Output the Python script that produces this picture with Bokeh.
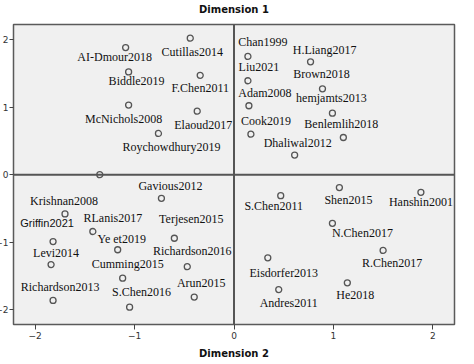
from bokeh.plotting import figure
from bokeh.models import Range1d, Span, FixedTicker, ColumnDataSource, LinearAxis
from bokeh.core.properties import value
from bokeh.embed import file_html
from bokeh.resources import INLINE

# ---- data ----
names = ["AI-Dmour2018", "Cutillas2014", "Biddle2019", "F.Chen2011", "McNichols2008",
         "Elaoud2017", "Roychowdhury2019",
         "Chan1999", "H.Liang2017", "Liu2021", "Brown2018", "Adam2008", "hemjamts2013",
         "Cook2019", "Benlemlih2018", "Dhaliwal2012",
         "Gavious2012", "Krishnan2008", "Griffin2021", "RLanis2017", "Ye et2019",
         "Terjesen2015", "Levi2014", "Richardson2016", "Cumming2015", "Richardson2013",
         "S.Chen2016", "Arun2015",
         "S.Chen2011", "Shen2015", "Hanshin2001", "N.Chen2017", "R.Chen2017",
         "Eisdorfer2013", "He2018", "Andres2011", ""]
dim_x = [-1.09, -0.44, -1.06, -0.34, -1.06, -0.37, -0.76,
         0.14, 0.77, 0.14, 0.89, 0.15, 0.99, 0.17, 1.10, 0.61,
         -0.73, -1.70, -1.82, -1.42, -1.17, -0.60, -1.84, -0.47, -1.12, -1.82, -1.05, -0.40,
         0.47, 1.06, 1.88, 0.99, 1.50, 0.34, 1.14, 0.45, -1.35]
dim_y = [1.88, 2.02, 1.52, 1.47, 1.03, 0.94, 0.61,
         1.75, 1.67, 1.39, 1.27, 1.02, 0.91, 0.60, 0.55, 0.29,
         -0.35, -0.58, -0.99, -0.84, -1.11, -0.94, -1.33, -1.36, -1.53, -1.86, -1.96, -1.81,
         -0.31, -0.19, -0.26, -0.72, -1.12, -1.23, -1.60, -1.70, 0.0]
ticks = [-2, -1, 0, 1, 2]
top_title = "Dimension 1"
bottom_title = "Dimension 2"

# label placement offsets (pixels) relative to each point
lab_dx = [-11, 2, 8, 0, -5, 6, 13,
          15, 14, 11, -1, 16, -1, 15, -2, 3,
          9, -1, -6, 20, 4, 17, 5, 5, 5, 7, 12, 7,
          -7, 9, 0, 30, 9, 16, 8, 10, 0]
lab_dy = [9, 14, 9, 13, 14, 14, 14,
          -14, -12, -14, -15, -13, -15, -13, -14, -12,
          -12, -13, -19, -13, -11, -19, -12, -16, -14, -13, -15, -14,
          10, 12, 10, 10, 13, 15, 12, 13, 0]

serif_idx = [i for i, n in enumerate(names) if n not in ("Griffin2021", "")]
sans_idx = [i for i, n in enumerate(names) if n == "Griffin2021"]

def sub(idx):
    return ColumnDataSource(dict(
        x=[dim_x[i] for i in idx], y=[dim_y[i] for i in idx],
        name=[names[i] for i in idx],
        dx=[lab_dx[i] for i in idx], dy=[lab_dy[i] for i in idx]))

pts = ColumnDataSource(dict(x=dim_x, y=dim_y))

x_rng = Range1d(-2.218, 2.218)
y_rng = Range1d(-2.216, 2.222)
p = figure(width=474, height=372, output_backend="svg", toolbar_location=None,
           x_range=x_rng, y_range=y_rng,
           min_border_left=14, min_border_right=12, min_border_top=32,
           min_border_bottom=40)
p.styles = {"margin": "-8px 0px -8px -8px"}

p.background_fill_color = "#f0f0f0"
p.border_fill_color = "white"
p.outline_line_color = "#5a5a5a"
p.outline_line_width = 1.5
p.grid.visible = False

for ax in (p.xaxis[0], p.yaxis[0]):
    ax.ticker = FixedTicker(ticks=ticks)
    ax.axis_line_color = None
    ax.major_tick_in = 0
    ax.major_tick_out = 5
    ax.major_tick_line_color = "#444444"
    ax.minor_tick_line_color = None
    ax.major_label_text_font = "DejaVu Sans"
    ax.major_label_text_font_size = "9px"
    ax.major_label_text_color = "#333333"
    ax.major_label_standoff = 2
p.yaxis.major_tick_out = 4
p.yaxis.major_label_standoff = 1

p.xaxis.axis_label = bottom_title
p.xaxis.axis_label_text_font = "DejaVu Sans"
p.xaxis.axis_label_text_font_style = "bold"
p.xaxis.axis_label_text_font_size = "10px"
p.xaxis.axis_label_text_color = "#111111"
p.xaxis.axis_label_standoff = 6

top_axis = LinearAxis(ticker=FixedTicker(ticks=[]), axis_label=top_title,
                      axis_line_color=None, major_tick_out=0, major_tick_in=0,
                      minor_tick_out=0, minor_tick_in=0, major_label_standoff=0,
                      axis_label_standoff=10, axis_label_text_font="DejaVu Sans",
                      axis_label_text_font_style="bold",
                      axis_label_text_font_size="10px",
                      axis_label_text_color="#111111")
p.add_layout(top_axis, "above")

p.add_layout(Span(location=0, dimension="height", line_color="#555555", line_width=2))
p.add_layout(Span(location=0, dimension="width", line_color="#555555", line_width=2))

p.scatter("x", "y", source=pts, size=6, fill_color=None, line_color="#555555",
          line_width=1.3)

p.text("x", "y", text="name", source=sub(serif_idx), x_offset="dx", y_offset="dy",
       text_font=value("'Liberation Serif', 'Times New Roman', serif"),
       text_font_size="12px",
       text_align="center", text_baseline="middle", text_color="#111111")
p.text("x", "y", text="name", source=sub(sans_idx), x_offset="dx", y_offset="dy",
       text_font=value("'Liberation Sans', Arial, sans-serif"), text_font_size="11px",
       text_align="center", text_baseline="middle", text_color="#111111")

open("out.html", "w").write(file_html(p, INLINE))
